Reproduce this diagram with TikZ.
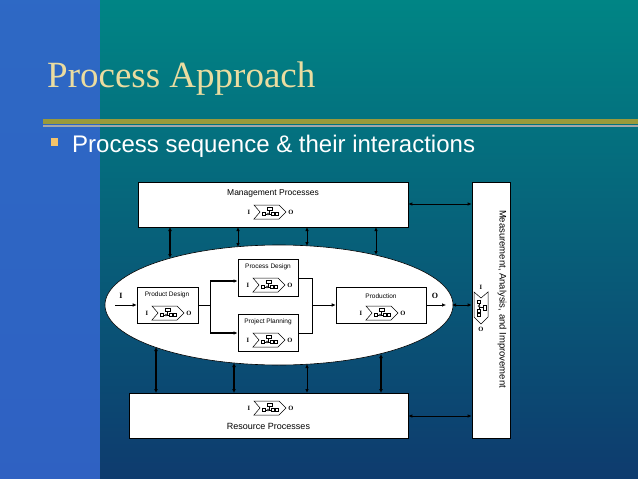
\documentclass[tikz,border=0pt]{standalone}
\usepackage{fontspec}
\setmainfont{Liberation Serif}
\setsansfont{Liberation Sans}
\usetikzlibrary{shapes.geometric,arrows.meta}
\definecolor{band}{HTML}{3366CC}
\definecolor{tealtop}{HTML}{008585}
\definecolor{bluebot}{HTML}{0E3B6E}
\definecolor{titlec}{HTML}{EADCA0}
\definecolor{olive}{HTML}{9A9A3A}
\definecolor{bullet}{HTML}{F5C46A}
\tikzset{
  box/.style={draw=black,fill=white,inner sep=0pt,line width=0.6pt},
  lab/.style={font=\sffamily\fontsize{8.5}{9}\selectfont,inner sep=0pt},
  slab/.style={font=\sffamily\fontsize{6.5}{7}\selectfont,inner sep=0pt},
  dbl/.style={{Latex[length=4pt,width=3.5pt]}-{Latex[length=4pt,width=3.5pt]},line width=0.9pt},
  dblthick/.style={{Latex[length=4pt,width=4pt]}-{Latex[length=4pt,width=4pt]},line width=1.6pt},
  flow/.style={-{Latex[length=4pt,width=3.5pt]},line width=0.6pt},
  io/.style={font=\bfseries\fontsize{6.5}{6.5}\selectfont,inner sep=0pt},
  proc/.pic={
    \draw[fill=white,line width=0.5pt] (-15,-7)--(10,-7)--(17,0)--(10,7)--(-15,7)--(-9,0)--cycle;
    \draw[line width=0.4pt] (-7,2)--(9,2) (0,-3)--(0,2);
    \draw[fill=white,line width=0.4pt] (-7,0.5) rectangle (-4,3.5) (-2,-5) rectangle (3,-2) (2,0.5) rectangle (5,3.5) (6,0.5) rectangle (9,3.5);
    \draw[fill=white,line width=0.4pt] (-1,2) circle (1.2);
    \node[io] at (-20,0) {I};
    \node[io] at (22,0) {O};
  }
}
\begin{document}
\begin{tikzpicture}[x=1pt,y=-1pt]
\useasboundingbox (0,0) rectangle (638,479);
\shade[top color=tealtop,bottom color=bluebot] (0,0) rectangle (638,479);
\fill[band,opacity=0.9] (0,0) rectangle (100,479);
% title
\node[anchor=base west,text=titlec,font=\fontsize{37}{40}\selectfont,inner sep=0] (title) at (47,87) {Process Approach};
\fill[olive] (43,119) rectangle (638,124);
\fill[gray!70] (43,125) rectangle (638,126.5);
\fill[bullet] (51,138) rectangle (58,146);
\node[anchor=base west,text=white,font=\sffamily\fontsize{24}{26}\selectfont,inner sep=0] (sub) at (72,152) {Process sequence \& their interactions};
% ellipse
\node[ellipse,draw=black,fill=white,line width=0.6pt,minimum width=348pt,minimum height=120pt,inner sep=0] (ell) at (279,305) {};
% boxes
\node[box,minimum width=270pt,minimum height=45pt] (mgmt) at (273,204.5) {};
\node[lab] (mgmtl) at (273,193) {Management Processes};
\pic at (269,212) {proc};
\node[box,minimum width=279pt,minimum height=45pt] (res) at (268.5,415.5) {};
\node[lab,font=\sffamily\fontsize{9}{9}\selectfont] (resl) at (268.5,426) {Resource Processes};
\pic at (269,408) {proc};
\node[box,minimum width=38pt,minimum height=256pt] (meas) at (491,310) {};
\node[lab,rotate=-90,font=\sffamily\fontsize{9.5}{10}\selectfont] (measl) at (502,299) {Measurement, Analysis, and Improvement};
\pic[rotate=-90] at (481,307) {proc};
\node[box,minimum width=61pt,minimum height=36pt] (pd) at (167.5,305) {};
\node[slab] at (167,295) {Product Design};
\pic at (167,313) {proc};
\node[box,minimum width=60pt,minimum height=37pt] (psd) at (268,277.5) {};
\node[slab] at (268,267) {Process Design};
\pic at (268,285) {proc};
\node[box,minimum width=60pt,minimum height=37pt] (pp) at (268,332.5) {};
\node[slab] at (268,322) {Project Planning};
\pic at (268,340) {proc};
\node[box,minimum width=90pt,minimum height=36pt] (prod) at (381,305) {};
\node[slab] at (381,296) {Production};
\pic at (381,313) {proc};
% flow
\coordinate (in) at (115,305);
\node[io,font=\bfseries\fontsize{8}{8}\selectfont] at (121,296) {I};
\draw[flow] (in) -- (pd.west);
\coordinate (split) at (210,305);
\draw[line width=0.6pt] (pd.east) -- (split);
\draw[flow,line width=1.2pt] (210,281) -- (psd.west|-0,281);
\draw[flow,line width=1.2pt] (210,333) -- (pp.west|-0,333);
\draw[line width=0.6pt] (210,281) -- (210,333);
\draw[line width=0.6pt] (psd.east|-0,278) -- (312,278) -- (312,333) -- (pp.east|-0,333);
\draw[flow] (312,305) -- (prod.west);
\coordinate (out) at (446,305);
\node[io,font=\bfseries\fontsize{8}{8}\selectfont] at (435,296) {O};
\draw[flow] (prod.east) -- (out);
\draw[dbl] (452,305) -- (meas.west|-0,305);
\draw[dbl] (mgmt.east|-0,204) -- (meas.west|-0,204);
\draw[dbl] (res.east|-0,416) -- (meas.west|-0,416);
% management verticals
\draw[dblthick] (170,227) -- (170,258);
\draw[dbl] (238,227) -- (238,247);
\draw[dbl] (307,227) -- (307,246);
\draw[dbl] (376,227) -- (376,255);
% resource verticals
\draw[dblthick] (156,347) -- (156,393);
\draw[dblthick] (234,363) -- (234,393);
\draw[dbl] (307,364) -- (307,393);
\draw[dblthick] (381,354) -- (381,393);
\end{tikzpicture}
\end{document}
